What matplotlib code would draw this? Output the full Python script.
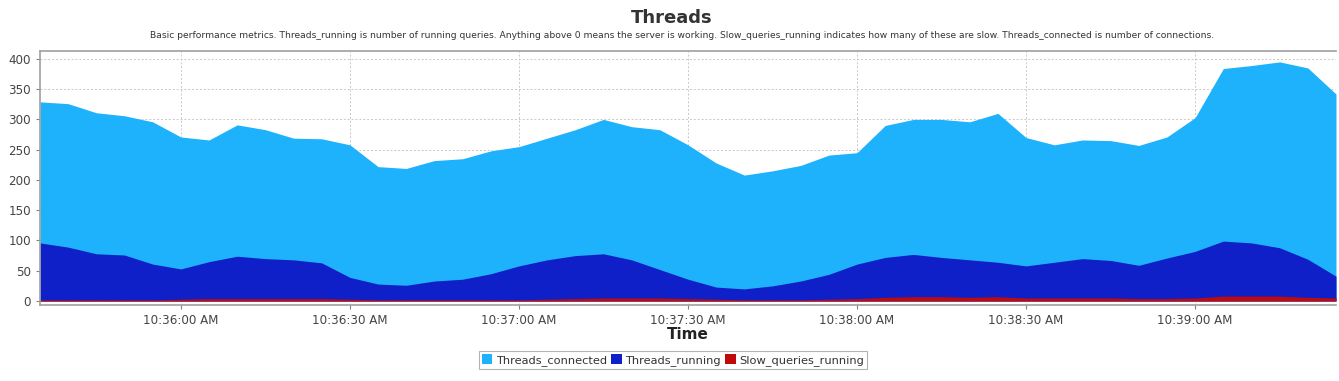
#!/usr/bin/env python3

import datetime as dt
import matplotlib
matplotlib.use("Agg")
import matplotlib.dates as md
import matplotlib.pyplot as plt
from matplotlib.patches import Patch

# samples every 5 s starting 10:35:35
start = dt.datetime(2016, 1, 1, 10, 35, 35)
n = 47
times = [start + dt.timedelta(seconds=5 * i) for i in range(n)]

threads_connected = [329, 326, 311, 306, 296, 271, 266, 291, 283, 269,
                     268, 258, 222, 219, 232, 235, 248, 255, 269, 283,
                     300, 288, 283, 258, 228, 208, 215, 224, 241, 245,
                     290, 300, 300, 296, 310, 270, 258, 266, 265, 257,
                     271, 303, 384, 389, 395, 385, 342]
threads_running = [96, 89, 78, 76, 61, 53, 65, 74, 70, 68,
                   63, 39, 28, 26, 33, 36, 45, 58, 68, 75,
                   78, 68, 52, 36, 23, 20, 25, 33, 44, 61,
                   72, 77, 72, 68, 64, 58, 64, 70, 67, 59,
                   71, 82, 99, 96, 88, 69, 41]
slow_queries = [2, 2, 2, 2, 2, 3, 4, 4, 4, 4,
                4, 3, 2, 2, 2, 2, 2, 2, 3, 4,
                5, 5, 5, 4, 3, 2, 2, 2, 3, 4,
                6, 7, 7, 6, 7, 5, 5, 5, 5, 4,
                4, 5, 8, 8, 8, 6, 5]

labels = ["Threads_connected", "Threads_running", "Slow_queries_running"]
colors = ["#1eb2fc", "#1020c8", "#c00a0a"]

fig = plt.figure(figsize=(13.39, 3.81), dpi=100)
ax = fig.add_axes([40 / 1339, 1 - 305 / 381, (1336 - 40) / 1339, (305 - 51) / 381])

ax.fill_between(times, 0, threads_connected, color=colors[0], lw=0)
ax.fill_between(times, 0, threads_running, color=colors[1], lw=0)
ax.fill_between(times, 0, slow_queries, color=colors[2], lw=0)

ax.set_xlim(times[0], times[-1])
ax.set_ylim(-6.6, 413)
ax.set_yticks([0, 50, 100, 150, 200, 250, 300, 350, 400])
ax.xaxis.set_major_locator(md.SecondLocator(bysecond=[0, 30]))
ax.xaxis.set_major_formatter(md.DateFormatter('%I:%M:%S %p'))

ax.grid(True, color="#c8c8c8", linestyle=(0, (2, 2)), linewidth=0.7)
ax.set_axisbelow(True)

for s in ax.spines.values():
    s.set_color("#a0a0a0")
    s.set_linewidth(1.2)
ax.spines["right"].set_visible(False)
ax.tick_params(colors="#808080", labelcolor="#444444", labelsize=8.6, length=3)

ax.set_xlabel("Time", fontsize=11, fontweight="bold", color="#222222", labelpad=0)

fig.text(672 / 1339, 1 - 18 / 381, "Threads", ha="center", va="center",
         fontsize=13, fontweight="bold", color="#333333")
fig.text(682 / 1339, 1 - 35 / 381,
         "Basic performance metrics. Threads_running is number of running queries. "
         "Anything above 0 means the server is working. Slow_queries_running indicates "
         "how many of these are slow. Threads_connected is number of connections.",
         ha="center", va="center", fontsize=6.6, color="#333333")

handles = [Patch(facecolor=c, edgecolor="none") for c in colors]
leg = fig.legend(handles, labels, loc="center", bbox_to_anchor=(673 / 1339, 1 - 360 / 381),
                 ncol=3, fontsize=8.2, frameon=True, fancybox=False,
                 handlelength=0.9, handleheight=0.9, handletextpad=0.3,
                 columnspacing=0.4, borderpad=0.3, borderaxespad=0,
                 labelcolor="#333333")
leg.get_frame().set_edgecolor("#a0a0a0")
leg.get_frame().set_linewidth(0.8)

fig.savefig("out.png", dpi=100)
